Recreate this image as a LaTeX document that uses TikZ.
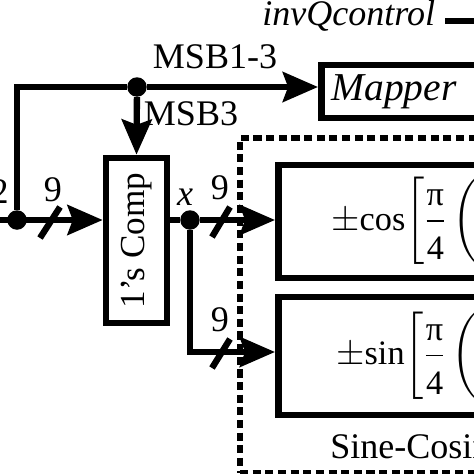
\documentclass[tikz,border=0pt]{standalone}
\usepackage{amsmath}
\usepackage{fontspec}
\setmainfont{Liberation Serif}
\usetikzlibrary{arrows.meta}

\newcommand{\bigstrut}{\rule[-22pt]{0pt}{54pt}}
\newcommand{\lutarg}[1]{$\pm\!#1\!\left[\bigstrut\dfrac{\text{π}\rule[-5pt]{0pt}{5pt}}{\rule{0pt}{19pt}\text{4}}\left(\bigstrut\pm x\right)\right]$}

\begin{document}
\begin{tikzpicture}[x=0.02cm, y=-0.02cm, >={Stealth[length=20pt, width=17pt, inset=3pt]},
    wire/.style={line width=3.6pt},
    blk/.style={draw, line width=3.8pt, inner ysep=0pt},
    lbl/.style={font=\fontsize{20.5}{24}\selectfont, inner sep=0pt},
    ital/.style={font=\fontsize{20.5}{24}\selectfont\itshape, inner sep=0pt},
    dot/.style={circle, fill, inner sep=0pt, minimum size=0.39cm}]
    \useasboundingbox (0,0) rectangle (474,474);
    \clip (0,0) rectangle (474,474);

    \node[draw, line width=3.4pt, dash pattern=on 4.6pt off 2.6pt, anchor=north west,
        minimum width=8cm, minimum height=6.7cm] (sincos) at (237,135) {};
    \node[lbl, anchor=west] (sclbl) at (330,447) {Sine-Cosine Generator};

    \node[blk, anchor=west, inner xsep=0.2cm, text width=5.4cm, minimum height=1.06cm,
        font=\fontsize{22.5}{26}\selectfont\itshape] (mapper) at (318,91.5) {Mapper};
    \node[blk, inner sep=0pt, minimum width=1.22cm, minimum height=3.3cm, font=\fontsize{20}{24}\selectfont]
        (comp) at (136.5,240.5) {\rotatebox{90}{1’s Comp}};
    \node[blk, anchor=west, inner xsep=1.06cm, text width=6cm, minimum height=2.26cm,
        font=\fontsize{19.5}{24}\selectfont] (cosbox) at (275,221.5) {\lutarg{\cos}};
    \node[blk, anchor=west, inner xsep=1.16cm, text width=6cm, minimum height=2.36cm,
        font=\fontsize{19.5}{24}\selectfont] (sinbox) at (275,356) {\lutarg{\sin}};

    \node[dot] (jin) at (17,220) {};
    \node[dot] (jtop) at (137,87) {};
    \node[dot] (jx) at (190,220) {};
    \coordinate (src) at (-10,220);
    \coordinate (jsin) at (190,352);
    \coordinate (invqend) at (480,21);

    \draw[wire, ->] (src) -- (src -| comp.west);
    \draw[wire] (jin) |- (jtop);
    \draw[wire, ->] (jtop) -- (jtop -| mapper.west);
    \draw[wire, ->] (jtop) -- (comp.north);
    \draw[wire] (comp.east |- jx) -- (jx);
    \draw[wire, ->] (jx) -- (jx -| cosbox.west);
    \draw[wire, ->] (jx) -- (jsin) -- (jsin -| sinbox.west);

    \draw[wire] (40,238) -- (60,207);
    \draw[wire] (212,237) -- (230,207);
    \draw[wire] (212,368) -- (230,339);

    \node[lbl, anchor=east] (nin) at (9,192) {12};
    \node[lbl] (w1) at (53,190) {9};
    \node[lbl] (w2) at (220,188) {9};
    \node[lbl] (w3) at (220,320) {9};
    \node[ital] (xlbl) at (185,197) {x};
    \node[lbl] (msbtop) at (215,57) {MSB1-3};
    \node[lbl] (msb3) at (191,114) {MSB3};
    \node[ital, anchor=base west] (invq) at (262,25) {invQcontrol};
    \draw[line width=3pt] (invqend -| invq.east) ++(10,0) -- (invqend);
\end{tikzpicture}
\end{document}
